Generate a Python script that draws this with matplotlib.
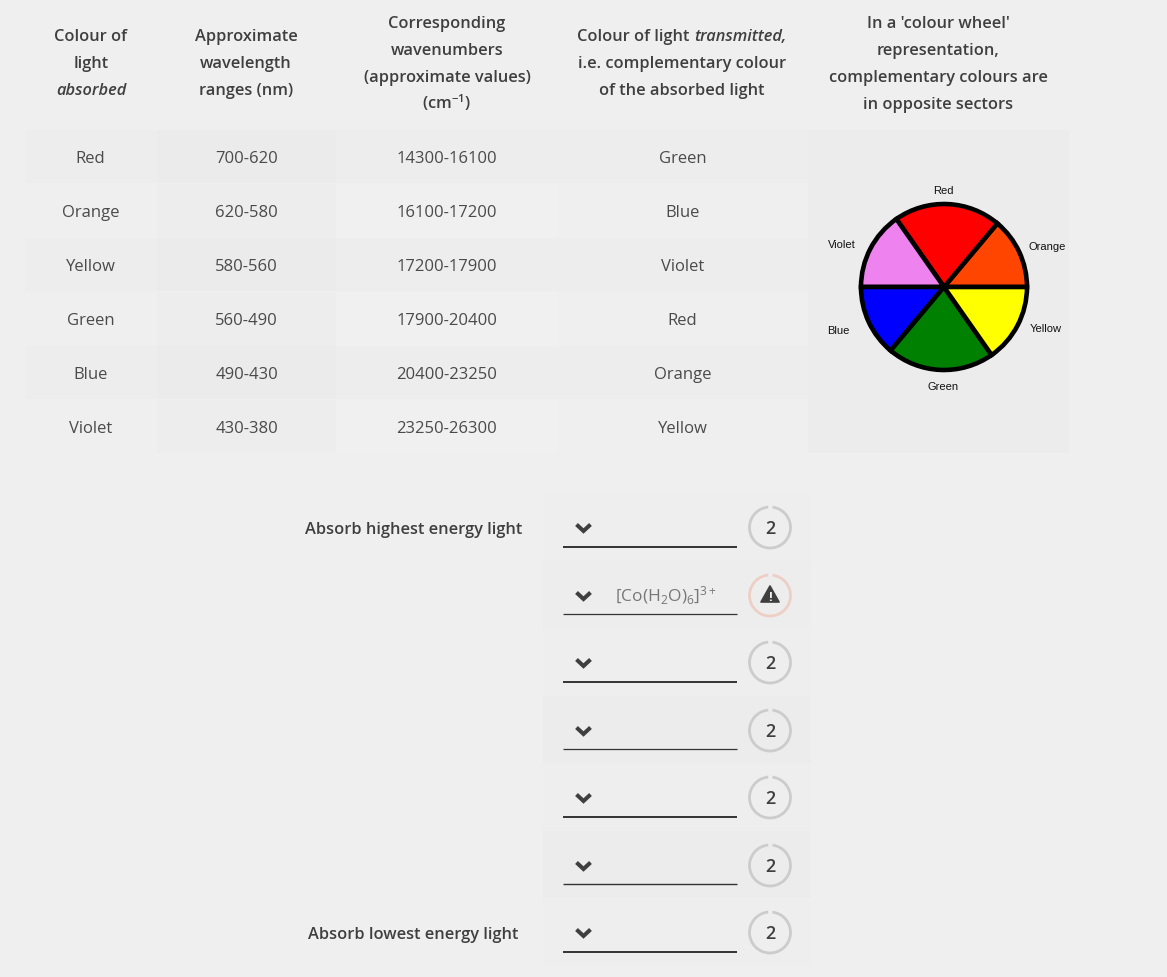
import matplotlib
matplotlib.use("Agg")
import matplotlib.pyplot as plt
from matplotlib.patches import Rectangle, Arc, Polygon

plt.rcParams['font.family'] = ['Open Sans', 'DejaVu Sans']
plt.rcParams['mathtext.default'] = 'regular'

W, H = 1167, 977
BG = '#efefef'
DARK = '#3f3f3f'
GREY = '#4a4a4a'

# table data
colours = ['Red', 'Orange', 'Yellow', 'Green', 'Blue', 'Violet']
wavelengths = ['700-620', '620-580', '580-560', '560-490', '490-430', '430-380']
wavenumbers = ['14300-16100', '16100-17200', '17200-17900',
               '17900-20400', '20400-23250', '23250-26300']
complementary = ['Green', 'Blue', 'Violet', 'Red', 'Orange', 'Yellow']

# colour wheel, sizes in degrees going anticlockwise from 3 o'clock
wheel_labels = ['Orange', 'Red', 'Violet', 'Blue', 'Green', 'Yellow']
wheel_sizes = [50, 75, 55, 50, 75, 55]
wheel_colours = ['#ff4500', '#ff0000', '#ee82ee', '#0000ff', '#008000', '#ffff00']

# ranking rows
row_marks = ['2', 'warn', '2', '2', '2', '2', '2']
row_entries = ['', '[Co(H$_2$O)$_6$]$^{3+}$', '', '', '', '', '']

fig = plt.figure(figsize=(W / 100, H / 100), dpi=100, facecolor=BG)
ax = fig.add_axes([0, 0, 1, 1])
ax.set_xlim(0, W)
ax.set_ylim(H, 0)
ax.axis('off')


def band(x0, x1, y0, y1, col):
    ax.add_patch(Rectangle((x0, y0), x1 - x0, y1 - y0, fc=col, ec='none', zorder=0))


def header(x, y, s, **kw):
    ax.text(x, y + 2, s, ha=kw.pop('ha', 'center'), va='center', fontsize=11.8,
            fontweight='semibold', color=DARK, **kw)


# cell backgrounds
col_edges = [25, 157, 336, 557, 808]
row_top = [130, 184, 238, 292, 346, 400]
row_bot = [184, 238, 292, 346, 400, 453]
odd_row = ['#ededed', '#ebebeb', '#ededed', '#ededed']
even_row = ['#efefef', '#ededed', '#f0f0f0', '#efefef']
for r in range(6):
    for c in range(4):
        col = odd_row[c] if r % 2 == 0 else even_row[c]
        band(col_edges[c], col_edges[c + 1], row_top[r], row_bot[r] - (r % 2 == 0), col)
band(808, 1069, 130, 453, '#ececec')

# headers
header(91, 35, 'Colour of')
header(91, 62, 'light')
header(91, 89, 'absorbed', style='italic')
header(246, 35, 'Approximate')
header(246, 62, 'wavelength')
header(246, 89, 'ranges (nm)')
header(447, 22, 'Corresponding')
header(447, 49, 'wavenumbers')
header(447, 76, '(approximate values)')
header(447, 101, '(cm$^{-1}$)')
header(694, 35, 'Colour of light ', ha='right')
header(694, 35, 'transmitted,', ha='left', style='italic')
header(682, 62, 'i.e. complementary colour')
header(682, 89, 'of the absorbed light')
header(938, 22, "In a 'colour wheel'")
header(938, 49, 'representation,')
header(938, 76, 'complementary colours are')
header(938, 103, 'in opposite sectors')

# table body
for i in range(6):
    y = 159 + 54 * i
    for x, s in zip([90.5, 246.5, 446.5, 682.5],
                    [colours[i], wavelengths[i], wavenumbers[i], complementary[i]]):
        ax.text(x, y, s, ha='center', va='center', fontsize=12, color=GREY)

# colour wheel
cx, cy, rad, half = 944, 287, 83, 100
wheel_ax = fig.add_axes([(cx - half) / W, 1 - (cy + half) / H, 2 * half / W, 2 * half / H])
wheel_ax.pie(wheel_sizes, colors=wheel_colours, startangle=0, counterclock=True, radius=1,
             wedgeprops={'edgecolor': 'black', 'linewidth': 3.3})
wheel_ax.set_xlim(-half / rad, half / rad)
wheel_ax.set_ylim(-half / rad, half / rad)
wheel_ax.patch.set_alpha(0)

label_pos = [(1047.5, 246.5), (943.5, 190.5), (842, 244.5), (838, 330.5), (943, 386.5), (1045.5, 328.5)]
for s, (x, y) in zip(wheel_labels, label_pos):
    ax.text(x, y, s, ha='center', va='center', fontsize=8, color='#111111',
            family=['Liberation Sans', 'DejaVu Sans'])

# ranking widgets
ax.text(522, 530, 'Absorb highest energy light', ha='right', va='center',
        fontsize=11.8, fontweight='semibold', color=DARK)
ax.text(518, 935, 'Absorb lowest energy light', ha='right', va='center',
        fontsize=11.8, fontweight='semibold', color=DARK)

row_y = [527, 595, 662, 730, 797, 865, 932]
line_y = [547, 614, 682, 749, 817, 884, 952]
line_w = [1.4, 0.9, 1.4, 0.9, 1.4, 1.0, 1.4]
row_bands = ['#eeeeee', '#ededed', '#eeeeee', '#ececec', '#eeeeee', '#ececec', '#eeeeee']
for i, y in enumerate(row_y):
    band(543, 811, y - 34, y + 34, row_bands[i])
    ax.plot([563, 737], [line_y[i]] * 2, color='#333333', lw=line_w[i], solid_capstyle='butt')
    ax.plot([576.5, 583.5, 590.5], [y - 2.5, y + 4, y - 2.5], color=DARK, lw=2.9,
            solid_joinstyle='miter', solid_capstyle='butt')
    ring = '#cccccc' if row_marks[i] == '2' else '#edcfc6'
    ax.add_patch(Arc((770, y + 0.5), 41, 41, theta1=-83, theta2=265, color=ring, lw=2.0))
    if row_marks[i] == '2':
        ax.text(770, y + 2, '2', ha='center', va='center', fontsize=13,
                fontweight='semibold', color=DARK)
    else:
        ax.add_patch(Polygon([[770, y - 9], [779, y + 7], [761, y + 7]], closed=True,
                             fc=DARK, ec=DARK, lw=1.2, joinstyle='round'))
        ax.text(770, y + 2.5, '!', ha='center', va='center', fontsize=9.5,
                fontweight='bold', color='#efefef')
    if row_entries[i]:
        ax.text(666, y + 1, row_entries[i], ha='center', va='center',
                fontsize=12.5, color='#777777')

fig.savefig('out.png', dpi=100, facecolor=BG)
